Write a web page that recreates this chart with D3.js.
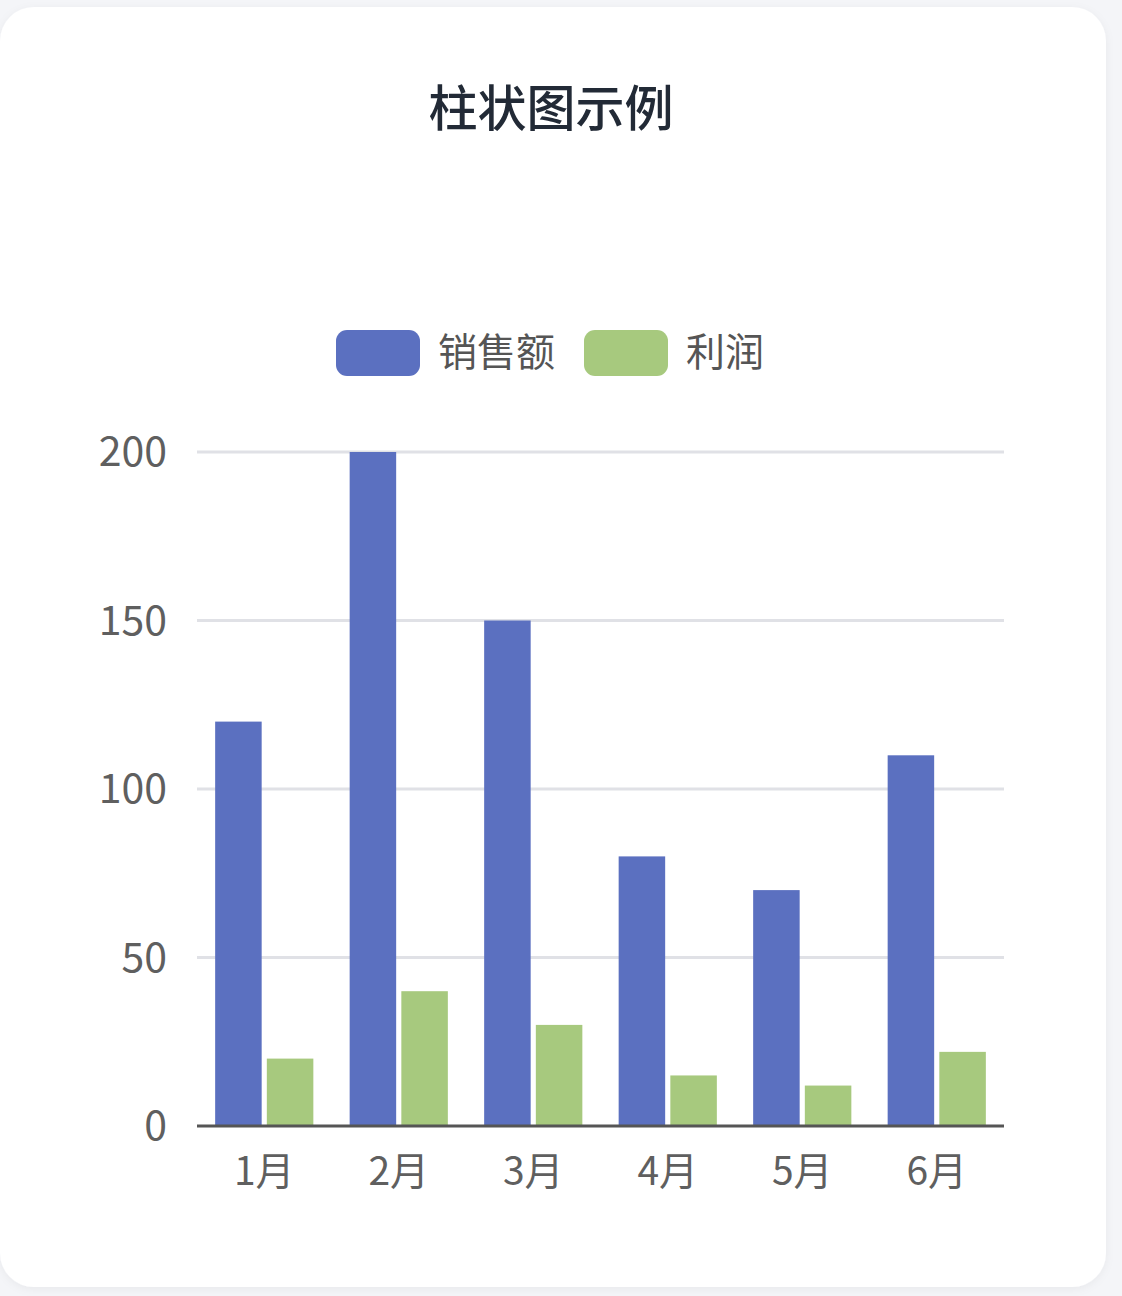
<!DOCTYPE html>
<html>
<head>
<meta charset="utf-8">
<script src="https://cdn.jsdelivr.net/npm/d3@7"></script>
<style>
  html, body { margin: 0; padding: 0; background: #f4f5f8; }
  svg { display: block; font-family: "Noto Sans CJK SC", "Noto Sans", sans-serif; }
</style>
</head>
<body>
<script>
// chart data
const months  = ['1月', '2月', '3月', '4月', '5月', '6月'];
const sales   = [120, 200, 150, 80, 70, 110];
const profit  = [20, 40, 30, 15, 12, 22];
const series  = ['销售额', '利润'];
const colors  = ['#5b70c0', '#a7c97e'];
const yTicks  = [0, 50, 100, 150, 200];

const width  = 1122;
const height = 1296;

const margin = { top: 452, right: 118, bottom: 170, left: 197 };

// text sits a bit low with central baseline, nudge it up
const textShift = -4;

const svg = d3.select('body')
  .append('svg')
    .attr('width',  width)
    .attr('height', height);

// card shadow
const defs = svg.append('defs');
const shadow = defs.append('filter')
  .attr('id', 'shadow')
  .attr('x', '-5%').attr('y', '-5%')
  .attr('width', '110%').attr('height', '110%');
shadow.append('feDropShadow')
  .attr('dx', 0).attr('dy', 2)
  .attr('stdDeviation', 4)
  .attr('flood-color', '#000')
  .attr('flood-opacity', 0.05);

// card
svg.append('rect')
  .attr('x', 0)
  .attr('y', 7)
  .attr('width', 1106)
  .attr('height', 1280)
  .attr('rx', 34)
  .attr('fill', '#ffffff')
  .attr('filter', 'url(#shadow)');

// title
svg.append('text')
  .attr('x', 551)
  .attr('y', 108 + textShift)
  .attr('text-anchor', 'middle')
  .attr('dominant-baseline', 'central')
  .attr('font-size', 49)
  .attr('font-weight', 500)
  .attr('fill', '#222a36')
  .text('柱状图示例');

// legend
const legend = svg.append('g');
const legendItems = [
  { x: 336, label: series[0], color: colors[0] },
  { x: 584, label: series[1], color: colors[1] }
];
legendItems.forEach((d) => {
  legend.append('rect')
    .attr('x', d.x)
    .attr('y', 330)
    .attr('width', 84)
    .attr('height', 46)
    .attr('rx', 11)
    .attr('fill', d.color);
  legend.append('text')
    .attr('x', d.x + 102)
    .attr('y', 353 + textShift)
    .attr('dominant-baseline', 'central')
    .attr('font-size', 39)
    .attr('fill', '#555')
    .text(d.label);
});

// scales
const x0 = d3.scaleBand()
  .domain(months)
  .range([margin.left, width - margin.right])
  .paddingInner(0.27)
  .paddingOuter(0.135);

const x1 = d3.scaleBand()
  .domain(series)
  .range([0, x0.bandwidth()])
  .paddingInner(0.1);

const y = d3.scaleLinear()
  .domain([0, 200])
  .range([height - margin.bottom, margin.top]);

// grid lines
svg.append('g')
  .selectAll('line')
  .data(yTicks.filter((t) => t > 0))
  .join('line')
    .attr('x1', margin.left)
    .attr('x2', width - margin.right)
    .attr('y1', (d) => y(d))
    .attr('y2', (d) => y(d))
    .attr('stroke', '#e0e1e6')
    .attr('stroke-width', 3);

// y labels
svg.append('g')
  .selectAll('text')
  .data(yTicks)
  .join('text')
    .attr('x', 167)
    .attr('y', (d) => y(d) + textShift)
    .attr('text-anchor', 'end')
    .attr('dominant-baseline', 'central')
    .attr('font-size', 41)
    .attr('fill', '#5f5f5f')
    .text((d) => d);

// bars
const rows = months.map((m, i) => ({ month: m, values: [sales[i], profit[i]] }));

svg.append('g')
  .selectAll('g')
  .data(rows)
  .join('g')
    .attr('transform', (d) => `translate(${x0(d.month)},0)`)
  .selectAll('rect')
  .data((d) => d.values.map((v, j) => ({ key: series[j], value: v, color: colors[j] })))
  .join('rect')
    .attr('x', (d) => x1(d.key))
    .attr('y', (d) => y(d.value))
    .attr('width', x1.bandwidth())
    .attr('height', (d) => y(0) - y(d.value))
    .attr('fill', (d) => d.color);

// x axis line
svg.append('line')
  .attr('x1', margin.left)
  .attr('x2', width - margin.right)
  .attr('y1', y(0))
  .attr('y2', y(0))
  .attr('stroke', '#555')
  .attr('stroke-width', 3);

// x labels
svg.append('g')
  .selectAll('text')
  .data(months)
  .join('text')
    .attr('x', (d) => x0(d) + x0.bandwidth() / 2)
    .attr('y', 1172 + textShift)
    .attr('text-anchor', 'middle')
    .attr('dominant-baseline', 'central')
    .attr('font-size', 39)
    .attr('fill', '#5f5f5f')
    .text((d) => d);
</script>
</body>
</html>
